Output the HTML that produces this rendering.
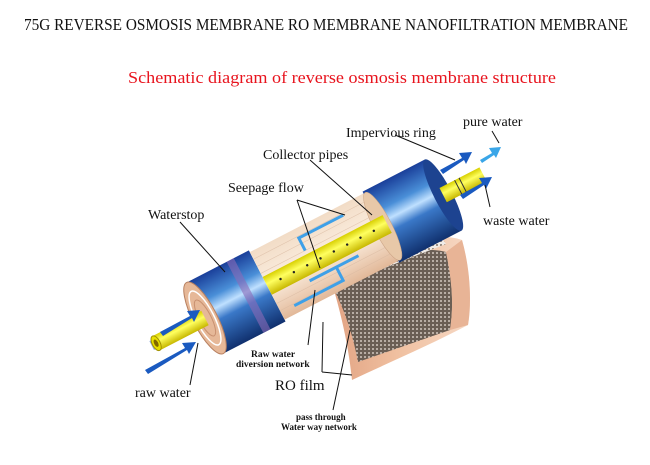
<!DOCTYPE html>
<html><head><meta charset="utf-8"><style>
html,body{margin:0;padding:0;background:#fff;width:650px;height:465px;overflow:hidden}
svg{display:block}
text{font-family:"Liberation Serif",serif}
</style></head><body>
<svg width="650" height="465" viewBox="0 0 650 465" xmlns="http://www.w3.org/2000/svg">
<defs>
<linearGradient id="blue" x1="0" y1="0" x2="0" y2="1">
<stop offset="0" stop-color="#1a3f9a"/><stop offset="0.3" stop-color="#4a8fd8"/><stop offset="0.45" stop-color="#bfe0ff"/><stop offset="0.6" stop-color="#3a78c8"/><stop offset="1" stop-color="#10306e"/></linearGradient>
<linearGradient id="beige" x1="0" y1="0" x2="0" y2="1">
<stop offset="0" stop-color="#f2dcc6"/><stop offset="0.5" stop-color="#fbeee0"/><stop offset="1" stop-color="#e2b898"/></linearGradient>
<linearGradient id="yel" x1="0" y1="0" x2="0" y2="1">
<stop offset="0" stop-color="#d8d000"/><stop offset="0.4" stop-color="#ffff60"/><stop offset="1" stop-color="#c8b800"/></linearGradient>
<linearGradient id="copper" x1="0" y1="0" x2="1" y2="0">
<stop offset="0" stop-color="#e0a080"/><stop offset="0.5" stop-color="#f0c0a0"/><stop offset="1" stop-color="#f6d8c4"/></linearGradient>
<pattern id="mesh" width="4" height="4" patternUnits="userSpaceOnUse"><rect width="4" height="4" fill="#6a5e54"/><rect width="2" height="2" fill="#b8ada4"/></pattern>
<pattern id="mesh2" width="4" height="4" patternUnits="userSpaceOnUse"><rect width="4" height="4" fill="#f0ece8"/><rect width="2" height="2" fill="#9a8e84"/></pattern>
</defs>

<text x="24" y="30" font-size="16.5" fill="#111" textLength="604" lengthAdjust="spacingAndGlyphs">75G REVERSE OSMOSIS MEMBRANE RO MEMBRANE NANOFILTRATION MEMBRANE</text>
<text x="128" y="83" font-size="17" fill="#e8141e" textLength="428" lengthAdjust="spacingAndGlyphs">Schematic diagram of reverse osmosis membrane structure</text>

<!-- film sheets -->
<path d="M325,262 C390,238 440,232 462,240 C470,270 472,305 468,325 C430,345 390,362 352,380 C348,340 338,300 325,262 Z" fill="url(#copper)"/>
<path d="M322,270 C380,252 425,246 446,252 C452,280 454,305 450,330 L358,362 C352,330 340,295 322,270 Z" fill="url(#mesh)"/>
<path d="M446,252 C452,280 454,305 450,330 L468,325 C472,300 470,268 462,240 Z" fill="#e8b496"/>
<path d="M285,305 C320,285 360,268 420,248 L440,236 L446,244 C400,262 350,280 320,300 Z" fill="url(#mesh2)"/>

<!-- cylinder rotated -->
<g transform="translate(205,318) rotate(-27.3)">
 <rect x="-60" y="-5" width="60" height="10" fill="#2a5ab8" opacity="0.5"/>
 <rect x="0" y="-40" width="70" height="80" fill="url(#blue)"/>
 <rect x="70" y="-38" width="130" height="76" fill="url(#beige)"/>
 <g stroke="#d8b8a0" stroke-width="0.6" opacity="0.7">
  <line x1="70" y1="-30" x2="200" y2="-30"/><line x1="70" y1="-22" x2="200" y2="-22"/><line x1="70" y1="-14" x2="200" y2="-14"/><line x1="70" y1="20" x2="200" y2="20"/><line x1="70" y1="28" x2="200" y2="28"/></g>
 <rect x="198" y="-40" width="70" height="80" fill="url(#blue)"/>
 <ellipse cx="268" cy="0" rx="9" ry="40" fill="#1d4390"/>
 <rect x="268" y="-8" width="45" height="16" fill="url(#yel)"/>
 <line x1="285" y1="-8" x2="285" y2="8" stroke="#333"/><line x1="290" y1="-8" x2="290" y2="8" stroke="#333"/>
 <ellipse cx="200" cy="0" rx="9" ry="38" fill="#e8c8a8" stroke="#c8a080" stroke-width="0.5"/>
 <rect x="70" y="-10" width="135" height="20" fill="url(#yel)"/>
 <g fill="#222"><circle cx="85" cy="0" r="1.2"/><circle cx="100" cy="0" r="1.2"/><circle cx="115" cy="0" r="1.2"/><circle cx="130" cy="0" r="1.2"/><circle cx="145" cy="0" r="1.2"/><circle cx="160" cy="0" r="1.2"/><circle cx="175" cy="0" r="1.2"/><circle cx="190" cy="0" r="1.2"/></g>
 <g fill="none" stroke="#3ea0e8" stroke-width="3">
  <path d="M85,30 L140,30 L140,14"/><path d="M120,-14 L120,-28 L170,-28"/><path d="M110,15 L165,15"/></g>
 <ellipse cx="0" cy="0" rx="12" ry="40" fill="#e6b898" stroke="#b88060"/>
 <ellipse cx="0" cy="0" rx="9" ry="30" fill="none" stroke="#fff" stroke-width="1.5"/>
 <ellipse cx="0" cy="0" rx="6" ry="20" fill="none" stroke="#c89070"/>
 <rect x="-55" y="-8" width="55" height="16" fill="url(#yel)"/>
 <ellipse cx="-55" cy="0" rx="4" ry="8" fill="#e8e000" stroke="#a09000"/>
 <ellipse cx="-55" cy="0" rx="2" ry="4" fill="#806800"/>
 <rect x="45" y="-40" width="8" height="80" fill="#8a6ab8" opacity="0.6"/>
</g>

<!-- flow arrows -->
<g fill="#1a5ac0">
 <path d="M145,370 L185,348 L182,343 L196,342 L189,354 L187,350 L148,374 Z"/>
 <path d="M160,332 L190,316 L187,311 L200,310 L194,322 L192,318 L163,336 Z"/>
 <path d="M440,170 L462,158 L459,153 L472,152 L466,164 L464,160 L443,174 Z"/>
 <path d="M460,195 L482,183 L479,178 L492,177 L486,189 L484,185 L463,199 Z"/>
</g>
<path d="M480,160 L492,153 L489,148 L501,147 L496,158 L494,155 L482,163 Z" fill="#3aa6e8"/>

<!-- leader lines -->
<g stroke="#111" stroke-width="1" fill="none">
 <line x1="180" y1="222" x2="225" y2="272"/>
 <line x1="395" y1="135" x2="455" y2="160"/>
 <line x1="492" y1="131" x2="499" y2="143"/>
 <line x1="310" y1="160" x2="372" y2="215"/>
 <line x1="297" y1="200" x2="320" y2="268"/>
 <line x1="297" y1="200" x2="345" y2="215"/>
 <line x1="490" y1="207" x2="485" y2="185"/>
 <line x1="308" y1="345" x2="315" y2="290"/>
 <path d="M322,372 L323,322 M322,372 L352,375"/>
 <line x1="333" y1="410" x2="350" y2="330"/>
 <line x1="190" y1="385" x2="198" y2="343"/>
</g>

<g fill="#111">
 <text x="346" y="137" font-size="14">Impervious ring</text>
 <text x="463" y="126" font-size="14">pure water</text>
 <text x="263" y="159" font-size="14">Collector pipes</text>
 <text x="228" y="192" font-size="14">Seepage flow</text>
 <text x="148" y="219" font-size="14">Waterstop</text>
 <text x="483" y="225" font-size="14">waste water</text>
 <text x="251" y="357" font-size="9.5" font-weight="bold">Raw water</text>
 <text x="236" y="367" font-size="9.5" font-weight="bold">diversion network</text>
 <text x="275" y="390" font-size="15">RO film</text>
 <text x="135" y="397" font-size="14">raw water</text>
 <text x="296" y="420" font-size="9" font-weight="bold">pass through</text>
 <text x="281" y="430" font-size="9" font-weight="bold">Water way network</text>
</g>
</svg>
</body></html>
